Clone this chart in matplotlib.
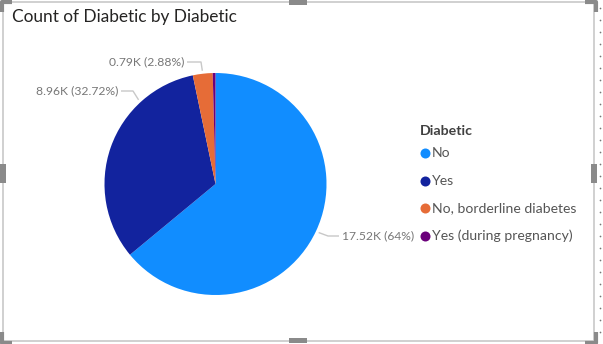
import matplotlib.pyplot as plt
import numpy as np
from matplotlib.patches import Rectangle

W, H = 603, 344

categories = ["No", "Yes", "No, borderline diabetes", "Yes (during pregnancy)"]
counts = [17520, 8957, 788, 110]
colors = ["#118DFF", "#12239E", "#E66C37", "#6B007B"]
# which slices get a data label, and where along the wedge the leader starts (0..1)
label_frac = [0.5, 0.26, 0.5, None]
# leader elbow / end / text anchor in pixel coords (layout only)
label_layout = [
    ((328, 236), (339, 236), "left"),
    ((133, 91), (121, 91), "right"),
    ((201, 62), (187, 62), "right"),
    None,
]


def py(y):
    return H - y


def fmt_label(v, total):
    pct = f"{v / total * 100:.2f}".rstrip("0").rstrip(".")
    return f"{v / 1000:.2f}K ({pct}%)"


fig = plt.figure(figsize=(W / 100, H / 100), dpi=100)
ax = fig.add_axes([0, 0, 1, 1])

cx, cy, r = 215.5, py(184), 111
wedges, _ = ax.pie(counts, colors=colors, startangle=90, counterclock=False,
                   center=(cx, cy), radius=r, frame=True,
                   wedgeprops=dict(linewidth=0))
ax.set_xlim(0, W)
ax.set_ylim(0, H)
ax.axis("off")

total = sum(counts)
for w, v, frac, lay in zip(wedges, counts, label_frac, label_layout):
    if lay is None:
        continue
    ang = np.deg2rad(w.theta1 + (w.theta2 - w.theta1) * frac)
    sx, sy = cx + (r + 3) * np.cos(ang), cy + (r + 3) * np.sin(ang)
    (ex, ey), (tx, ty), ha = lay
    ax.plot([sx, ex, tx], [sy, py(ey), py(ty)], color="#c8c8c8", lw=1,
            solid_capstyle="butt")
    off = 3 if ha == "left" else -3
    ax.text(tx + off, py(ty), fmt_label(v, total), ha=ha, va="center",
            fontsize=8.7, color="#777777", family="Lato")

# title
ax.text(12, py(17), "Count of Diabetic by Diabetic", ha="left", va="center",
        fontsize=12.4, color="#252423", family="Lato")

# legend
ax.text(420, py(131), "Diabetic", ha="left", va="center", fontsize=10.2,
        fontweight="bold", color="#404040", family="Lato")
for i, (cat, col) in enumerate(zip(categories, colors)):
    yy = py(153 + i * 27.7)
    ax.scatter([425], [yy], s=52, color=col, linewidths=0)
    ax.text(432, yy, cat, ha="left", va="center", fontsize=10.1,
            color="#555555", family="Lato")

# visual frame and handles
ax.add_patch(Rectangle((3, py(341)), 591, 339, fill=False, ec="#c8c8c8", lw=1.2))
hc = "#8a8a8a"
for (x0, y0, w_, h_) in [(289, 0, 18, 5), (289, 338, 18, 5), (0, 164, 6, 19),
                         (591, 164, 6, 19)]:
    ax.add_patch(Rectangle((x0, py(y0 + h_)), w_, h_, color=hc, lw=0))
# corner L marks
for (x0, y0, dx, dy) in [(0, 0, 1, 1), (597, 0, -1, 1), (0, 344, 1, -1), (597, 344, -1, -1)]:
    ax.plot([x0 + dx * 1.5, x0 + dx * 1.5, x0 + dx * 12], [py(y0 + dy * 12), py(y0 + dy * 1.5), py(y0 + dy * 1.5)],
            color=hc, lw=3, solid_capstyle="butt")
# scrollbar dots on the right edge
dots_y = np.arange(8, 336, 12)
ax.scatter(np.full(len(dots_y), 600), py(dots_y), s=1.5, color="#777777", linewidths=0)

fig.savefig("out.png", dpi=100)
